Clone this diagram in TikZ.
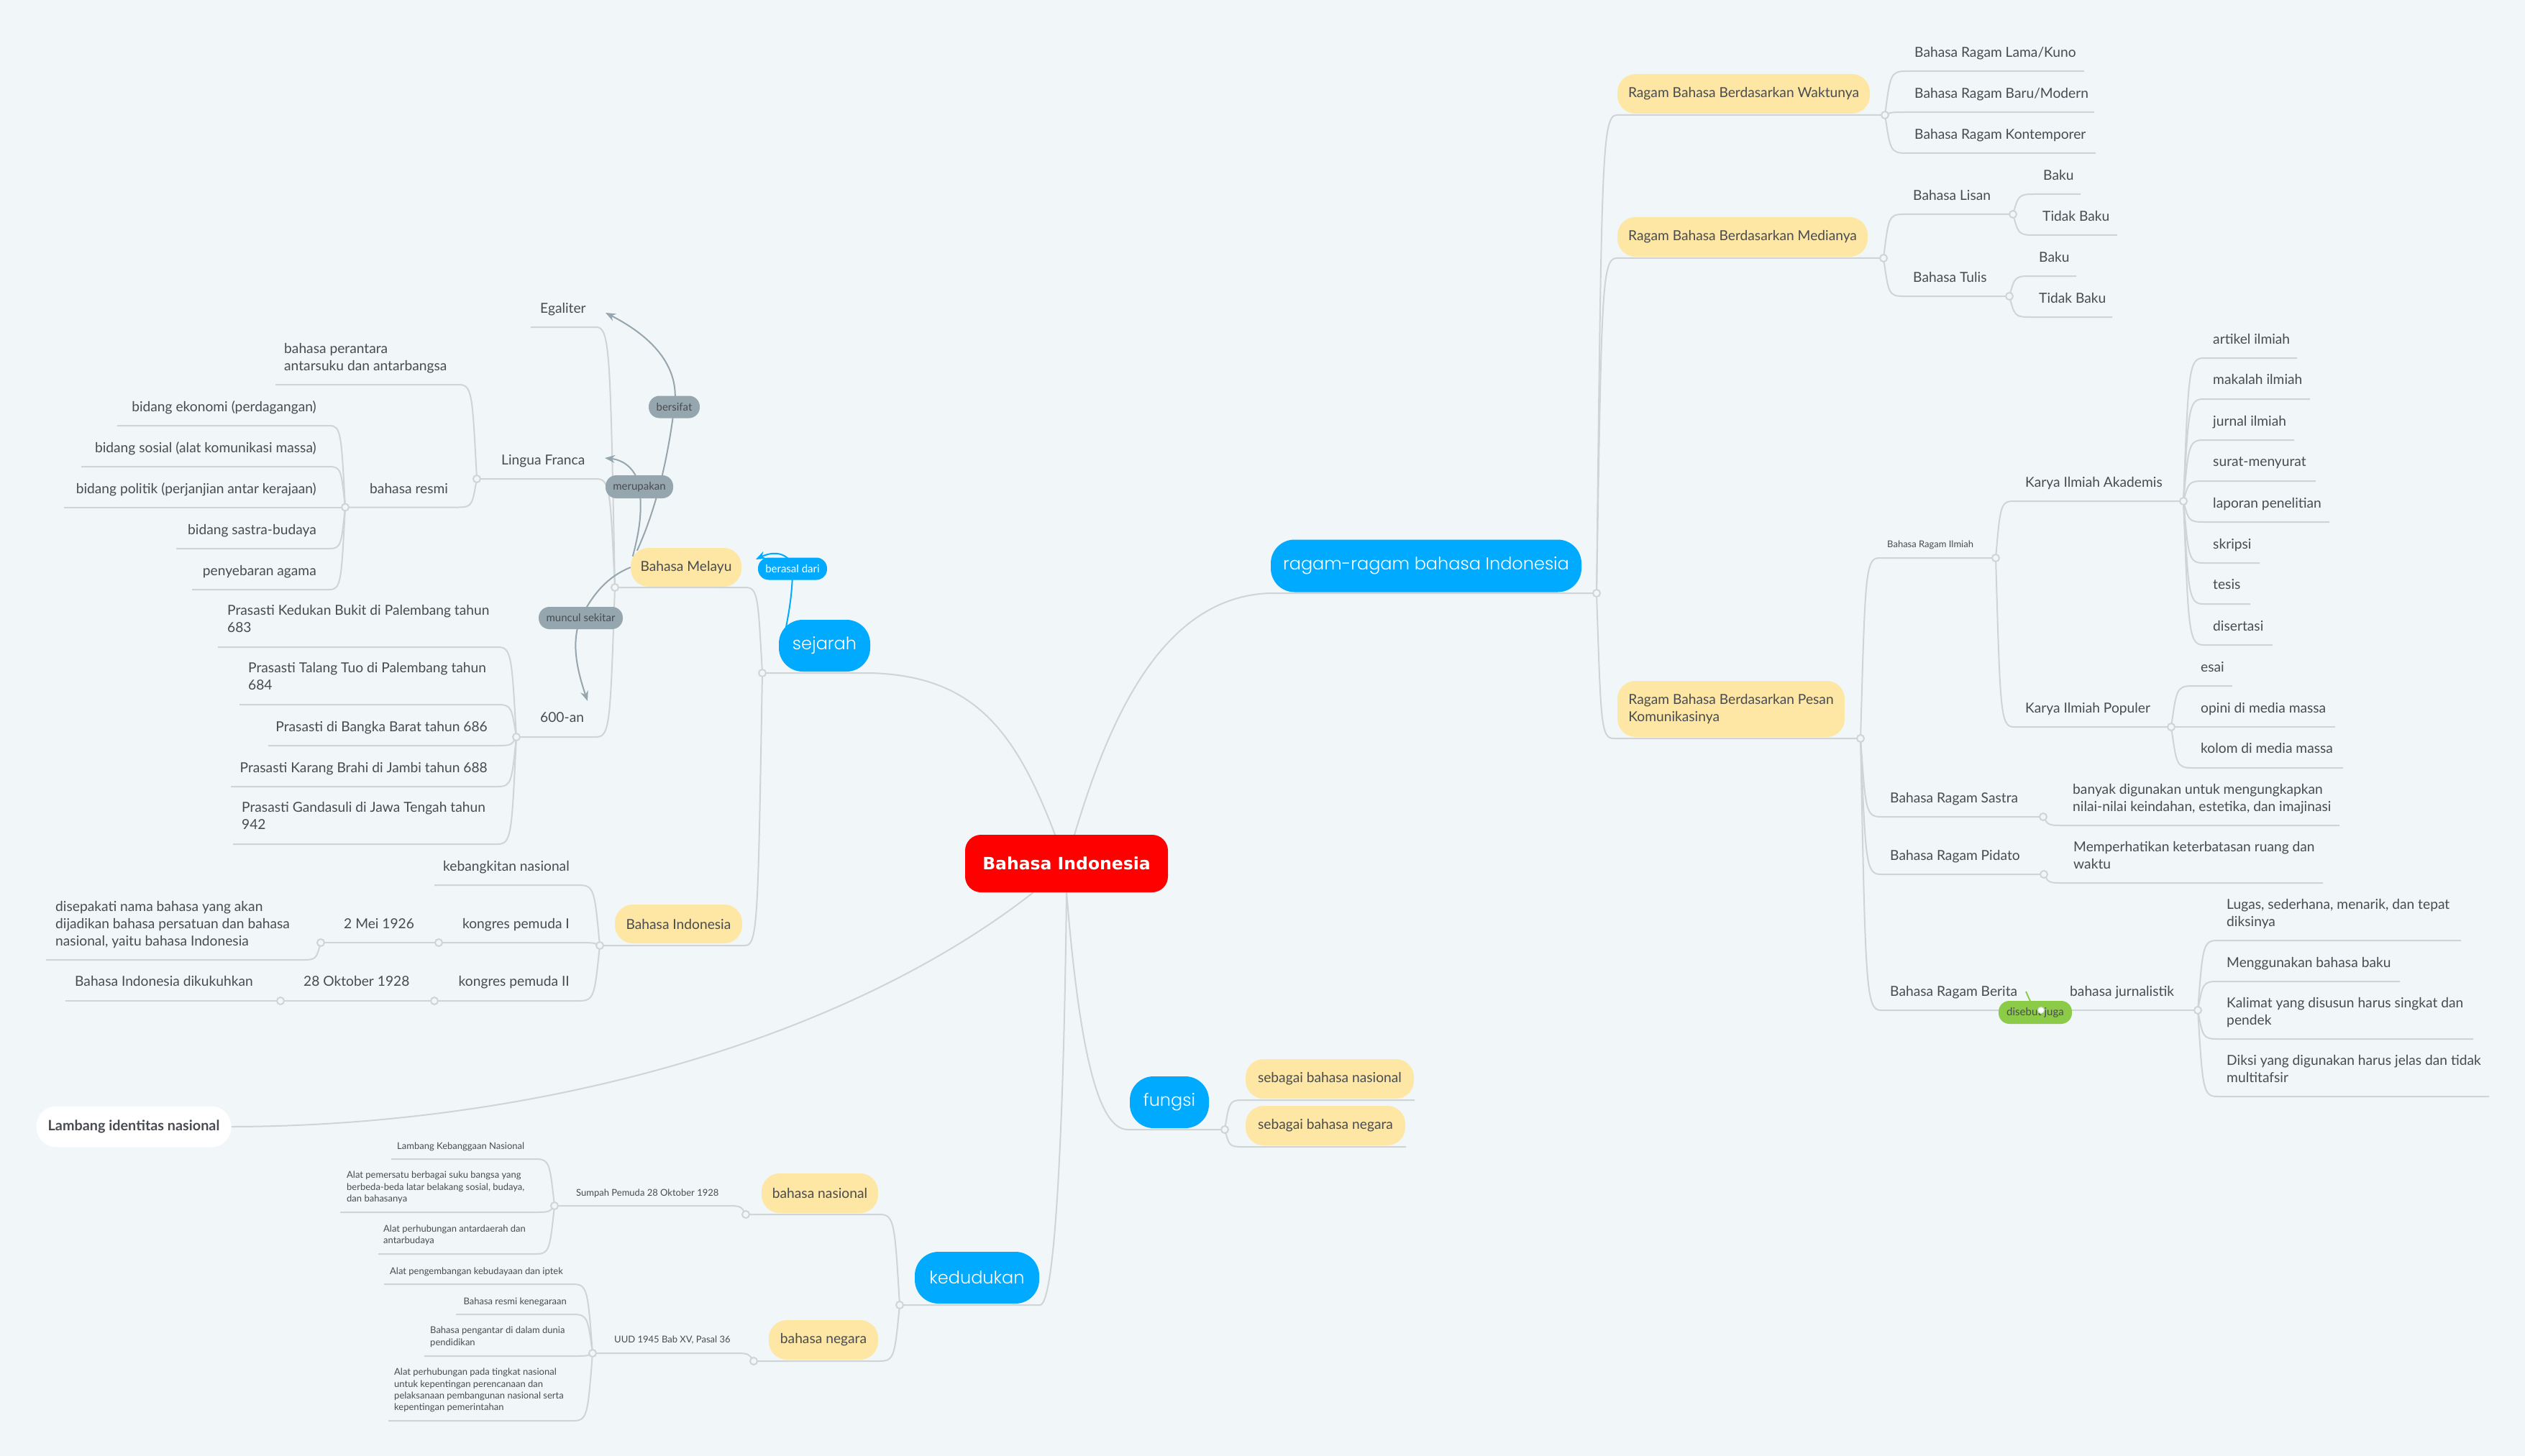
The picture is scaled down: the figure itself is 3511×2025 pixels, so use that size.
\documentclass[tikz,border=0pt]{standalone}
\usepackage{fontspec}
\usetikzlibrary{calc,arrows.meta,shapes.geometric}
\setmainfont{Lato}
\newfontfamily\thinfont{Poppins}[UprightFont=* Light]
\newfontfamily\rootfont{DejaVu Sans}
\definecolor{bgc}{HTML}{F1F6F9}
\definecolor{linec}{HTML}{D0D4D7}
\definecolor{relc}{HTML}{96A6AF}
\definecolor{bluec}{HTML}{00AAFF}
\definecolor{yelc}{HTML}{FEE7A5}
\definecolor{txtc}{HTML}{484C50}
\definecolor{grnc}{HTML}{8BCB48}
\pgfdeclarelayer{back}
\pgfdeclarelayer{bg}
\pgfsetlayers{back,bg,main}
\tikzset{
  txt/.style={inner sep=0,yshift=-2pt,text=txtc,align=left,font=\fontsize{19.2}{24}\selectfont,execute at begin node=\strut,execute at end node=\strut},
  tsm/.style={inner sep=0,yshift=-1pt,text=txtc,align=left,font=\fontsize{13}{16.4}\selectfont,execute at begin node=\strut,execute at end node=\strut},
  jn/.style={circle,minimum size=10pt,inner sep=0,draw=linec,line width=2pt,fill=bgc},
  br/.style={draw=linec,line width=2pt},
  pill/.style={rectangle,inner sep=0,align=left},
  yel/.style={pill,fill=yelc,text=txtc,rounded corners=25pt,font=\fontsize{19.2}{24}\selectfont},
  blu/.style={pill,fill=bluec,text=white,rounded corners=33pt,font=\thinfont\fontsize{24}{30}\selectfont},
  rel/.style={pill,fill=relc,text=txtc,rounded corners=15pt,font=\fontsize{15}{18}\selectfont},
  relline/.style={draw=relc,line width=2pt},
  tipped/.style={-{Stealth[length=14pt,width=11pt]}},
}
% text label
\newcommand{\Tx}[5][west]{\node[txt,anchor=#1] (#2) at (#3,#4) {#5};}
\newcommand{\Ts}[5][west]{\node[tsm,anchor=#1] (#2) at (#3,#4) {#5};}
% junction circle
\newcommand{\Jn}[3]{\node[jn] (#1) at (#2,#3) {};}
% rounded node: style, name, cx, cy, w, h, text
\newcommand{\Pl}[7]{\node[#1,minimum width=#5pt,minimum height=#6pt] (#2) at (#3,#4) {#7};}
% branch drawn from a junction, over a free-ended underline: name, junction, near x, far x, y
\newcommand{\Kid}[5]{%
  \coordinate (#1n) at (#3,#5);\coordinate (#1f) at (#4,#5);
  \begin{pgfonlayer}{bg}
  \draw[br] let \p1=(#2.center),\p2=(#1n) in (#2.center) .. controls ({\x1+.25*(\x2-\x1)},{\y1+.9*(\y2-\y1)}) and ({\x1+.25*(\x2-\x1)},\y2) .. (#1n) -- (#1f);
  \end{pgfonlayer}}
% branch from a junction to another junction: junction, near x, y, far junction
\newcommand{\Lnk}[4]{%
  \coordinate (#4n) at (#2,#3);
  \begin{pgfonlayer}{bg}
  \draw[br] let \p1=(#1.center),\p2=(#4n) in (#1.center) .. controls ({\x1+.25*(\x2-\x1)},{\y1+.9*(\y2-\y1)}) and ({\x1+.25*(\x2-\x1)},\y2) .. (#4n) -- (#4.center);
  \end{pgfonlayer}}
\begin{document}
\begin{tikzpicture}[x=1pt,y=-1pt]
\begin{pgfonlayer}{back}
\fill[bgc] (0,0) rectangle (3511,2025);
\end{pgfonlayer}
\useasboundingbox (0,0) rectangle (3511,2025);

% main nodes
\node[pill,fill=red,text=white,rounded corners=22pt,minimum width=282pt,minimum height=80pt,font=\rootfont\bfseries\fontsize{23.5}{30}\selectfont] (root) at (1483,1201) {Bahasa Indonesia};
\node[pill,fill=white,text=txtc,rounded corners=28pt,minimum width=271pt,minimum height=57pt,font=\bfseries\fontsize{19.8}{24}\selectfont] (lam) at (186,1567) {Lambang identitas nasional};
\Pl{blu}{sej}{1146.5}{898}{127}{72}{sejarah}
\Pl{blu}{rag}{1983}{787}{432}{73}{ragam-ragam bahasa Indonesia}
\Pl{blu}{fun}{1626}{1533}{110}{72}{fungsi}
\Pl{blu}{ked}{1358.5}{1777}{173}{72}{kedudukan}

\Pl{yel}{mel}{954}{789}{154}{54}{Bahasa Melayu}
\Pl{yel}{bin}{943.5}{1285}{177}{54}{Bahasa Indonesia}
\Pl{yel}{nas}{1140}{1659.5}{162}{55}{bahasa nasional}
\Pl{yel}{neg}{1145}{1863.5}{152}{55}{bahasa negara}
\Pl{yel}{sbn}{1849}{1500.5}{234}{55}{sebagai bahasa nasional}
\Pl{yel}{sbg}{1843}{1565.5}{222}{55}{sebagai bahasa negara}
\Pl{yel}{wak}{2424.5}{130.5}{351}{55}{Ragam Bahasa Berdasarkan Waktunya}
\Pl{yel}{med}{2423}{329.5}{348}{55}{Ragam Bahasa Berdasarkan Medianya}
\Pl{yel}{pes}{2407}{986}{316}{78}{Ragam Bahasa Berdasarkan Pesan\\Komunikasinya}

% junctions
\Jn{jsej}{1060}{936}\Jn{jmel}{855}{817}\Jn{jlf}{663}{666}\Jn{jres}{480}{705.5}\Jn{jsix}{718}{1025}
\Jn{jbi}{834}{1315}\Jn{jka}{610}{1311}\Jn{jmei}{446}{1311}\Jn{jkb}{604}{1392}\Jn{jokt}{390}{1392}
\Jn{jked}{1251}{1815}\Jn{jnas}{1037}{1689}\Jn{jsum}{771}{1677}\Jn{jneg}{1048}{1893}\Jn{juud}{824}{1882}
\Jn{jfun}{1703}{1571}
\Jn{jrag}{2220}{825}\Jn{jwak}{2621}{160}\Jn{jmed}{2619}{359}\Jn{jlis}{2799}{298}\Jn{jtul}{2794}{412}
\Jn{jpes}{2587}{1027}\Jn{jilm}{2775}{776}\Jn{jaka}{3036}{697}\Jn{jpop}{3019}{1011}
\Jn{jsas}{2841}{1136}\Jn{jpid}{2842}{1216}\Jn{jjur}{3056}{1405}

% relation nodes
\Pl{rel}{rsif}{937.5}{566}{71}{31}{bersifat}
\Pl{rel}{rmer}{889}{677}{94}{32}{merupakan}
\Pl{rel}{rmun}{807.5}{859.5}{117}{31}{muncul sekitar}
\node[pill,fill=bluec,text=white,rounded corners=15pt,minimum width=96pt,minimum height=31pt,font=\fontsize{15}{18}\selectfont] (rasl) at (1102,791) {berasal dari};
\node[pill,fill=grnc,text=txtc,rounded corners=15pt,minimum width=102pt,minimum height=32pt,font=\fontsize{15}{18}\selectfont] (rdis) at (2830,1408) {disebut juga};
\node[jn,fill=white,minimum size=9pt,line width=1pt] (jber) at (2838,1405) {};

% root branches
\begin{pgfonlayer}{bg}
\coordinate (ra) at (1467,1161);\coordinate (rb) at (1494,1161);\coordinate (rc) at (1437,1241);
\draw[br] (ra) .. controls (1410,1010) and (1350,940) .. (1210,936) -- (jsej.center);
\draw[br] (rb) .. controls (1545,990) and (1620,830) .. (1766,825) -- (jrag.center);
\draw[br] (rc) .. controls (1170,1450) and (740,1566) .. (lam.east);
\draw[br] (root.south) .. controls (1500,1450) and (1525,1571) .. (1568,1571) -- (jfun.center);
\draw[br] (root.south) .. controls (1480,1500) and (1470,1815) .. (1446,1815) -- (jked.center);
\end{pgfonlayer}

% sejarah
\Lnk{jsej}{1036}{817}{jmel}
\Lnk{jsej}{1036}{1315}{jbi}
\Lnk{jmel}{829}{666}{jlf}
\Lnk{jmel}{829}{1025}{jsix}
\Kid{ega}{jmel}{829}{738}{455}
\Tx{tega}{751}{428.5}{Egaliter}
\Tx{tlf}{697}{640}{Lingua Franca}
\Tx{tsix}{751}{998}{600-an}
\Kid{per}{jlf}{638}{383}{535}
\Tx{tper}{395}{498}{bahasa perantara\\antarsuku dan antarbangsa}
\Lnk{jlf}{638}{705.5}{jres}
\Tx{tres}{514}{680}{bahasa resmi}
\Kid{eko}{jres}{458}{163}{592}
\Kid{sos}{jres}{458}{113}{649}
\Kid{pol}{jres}{458}{89}{705.5}
\Kid{sas}{jres}{458}{245}{763}
\Kid{pen}{jres}{458}{267}{820}
\Tx[east]{teko}{440}{566}{bidang ekonomi (perdagangan)}
\Tx[east]{tsos}{440}{623}{bidang sosial (alat komunikasi massa)}
\Tx[east]{tpol}{440}{680}{bidang politik (perjanjian antar kerajaan)}
\Tx[east]{tsas}{440}{737}{bidang sastra-budaya}
\Tx[east]{tpen}{440}{794}{penyebaran agama}
\Kid{pa}{jsix}{692}{303}{900}
\Kid{pb}{jsix}{692}{333}{980}
\Kid{pc}{jsix}{692}{373}{1037}
\Kid{pd}{jsix}{692}{321}{1094}
\Kid{pe}{jsix}{692}{324}{1174}
\Tx{tpa}{316}{862}{Prasasti Kedukan Bukit di Palembang tahun\\683}
\Tx{tpb}{345}{942.5}{Prasasti Talang Tuo di Palembang tahun\\684}
\Tx[east]{tpc}{678}{1010.5}{Prasasti di Bangka Barat tahun 686}
\Tx[east]{tpd}{678}{1068}{Prasasti Karang Brahi di Jambi tahun 688}
\Tx{tpe}{336}{1136.5}{Prasasti Gandasuli di Jawa Tengah tahun\\942}
\Kid{keb}{jbi}{805}{604}{1231}
\Tx[east]{tkeb}{792}{1205}{kebangkitan nasional}
\Lnk{jbi}{805}{1311}{jka}
\Tx[east]{tka}{792}{1284.5}{kongres pemuda I}
\Lnk{jka}{600}{1311}{jmei}
\Tx{tmei}{478}{1284.5}{2 Mei 1926}
\Kid{dis}{jmei}{422}{64}{1335}
\Tx{tdis}{77}{1286}{disepakati nama bahasa yang akan\\dijadikan bahasa persatuan dan bahasa\\nasional, yaitu bahasa Indonesia}
\Lnk{jbi}{805}{1392}{jkb}
\Tx[east]{tkb}{792}{1365}{kongres pemuda II}
\Lnk{jkb}{595}{1392}{jokt}
\Tx{tokt}{422}{1365}{28 Oktober 1928}
\Kid{kuk}{jokt}{380}{91}{1392}
\Tx{tkuk}{104}{1365}{Bahasa Indonesia dikukuhkan}

% kedudukan
\Lnk{jked}{1223}{1689}{jnas}
\Lnk{jked}{1223}{1893}{jneg}
\Lnk{jnas}{1012}{1677}{jsum}
\Lnk{jneg}{1022}{1882}{juud}
\Ts{tsum}{801}{1659}{Sumpah Pemuda 28 Oktober 1928}
\Ts{tuud}{854}{1863}{UUD 1945 Bab XV, Pasal 36}
\Kid{lk}{jsum}{745}{544}{1612}
\Kid{lp}{jsum}{745}{473}{1686}
\Kid{lh}{jsum}{745}{526}{1744}
\Ts{tlk}{552}{1594}{Lambang Kebanggaan Nasional}
\Ts{tlp}{482}{1652}{Alat pemersatu berbagai suku bangsa yang\\berbeda-beda latar belakang sosial, budaya,\\dan bahasanya}
\Ts{tlh}{533}{1718}{Alat perhubungan antardaerah dan\\antarbudaya}
\Kid{ua}{juud}{797}{534}{1786}
\Kid{ub}{juud}{797}{634}{1828}
\Kid{uc}{juud}{797}{590}{1886}
\Kid{ud}{juud}{797}{540}{1976}
\Ts{tua}{542}{1768}{Alat pengembangan kebudayaan dan iptek}
\Ts[east]{tub}{788}{1810}{Bahasa resmi kenegaraan}
\Ts{tuc}{598}{1859.5}{Bahasa pengantar di dalam dunia\\pendidikan}
\Ts{tud}{548}{1934}{Alat perhubungan pada tingkat nasional\\untuk kepentingan perencanaan dan\\pelaksanaan pembangunan nasional serta\\kepentingan pemerintahan}

% fungsi
\Kid{fa}{jfun}{1727}{1967}{1530}
\Kid{fb}{jfun}{1727}{1955}{1595}

% ragam
\Lnk{jrag}{2248}{160}{jwak}
\Lnk{jrag}{2248}{359}{jmed}
\Lnk{jrag}{2244}{1027}{jpes}
\Kid{wa}{jwak}{2650}{2898}{99}
\Kid{wb}{jwak}{2650}{2912}{156}
\Kid{wc}{jwak}{2650}{2914}{213}
\Tx{twa}{2662}{73}{Bahasa Ragam Lama/Kuno}
\Tx{twb}{2662}{130}{Bahasa Ragam Baru/Modern}
\Tx{twc}{2662}{187}{Bahasa Ragam Kontemporer}
\Lnk{jmed}{2646}{298}{jlis}
\Lnk{jmed}{2646}{412}{jtul}
\Tx{tlis}{2660}{272}{Bahasa Lisan}
\Tx{ttul}{2660}{386}{Bahasa Tulis}
\Kid{la}{jlis}{2828}{2893}{270}
\Kid{lb}{jlis}{2828}{2944}{327}
\Kid{ta}{jtul}{2822}{2887}{384}
\Kid{tb}{jtul}{2822}{2937}{441}
\Tx{tla}{2841}{244}{Baku}
\Tx{tlb}{2840}{301}{Tidak Baku}
\Tx{tta}{2835}{358}{Baku}
\Tx{ttb}{2835}{415}{Tidak Baku}

\Lnk{jpes}{2613}{776}{jilm}
\Lnk{jpes}{2615}{1136}{jsas}
\Lnk{jpes}{2615}{1216}{jpid}
\Lnk{jpes}{2615}{1405}{jber}
\Ts{tilm}{2624}{757}{Bahasa Ragam Ilmiah}
\Tx{tsst}{2628}{1110}{Bahasa Ragam Sastra}
\Tx{tpdt}{2628}{1190}{Bahasa Ragam Pidato}
\Tx{tbrt}{2628}{1379}{Bahasa Ragam Berita}
\Lnk{jilm}{2800}{697}{jaka}
\Lnk{jilm}{2800}{1011}{jpop}
\Tx{taka}{2816}{671}{Karya Ilmiah Akademis}
\Tx{tpop}{2816}{985}{Karya Ilmiah Populer}
\Kid{a}{jaka}{3064}{3194}{498}
\Kid{b}{jaka}{3064}{3212}{555}
\Kid{c}{jaka}{3064}{3190}{612}
\Kid{d}{jaka}{3064}{3220}{669}
\Kid{e}{jaka}{3064}{3239}{726}
\Kid{g}{jaka}{3064}{3142}{783}
\Kid{h}{jaka}{3064}{3129}{840}
\Kid{i}{jaka}{3064}{3160}{897}
\Tx{ta1}{3077}{472}{artikel ilmiah}
\Tx{ta2}{3077}{528}{makalah ilmiah}
\Tx{ta3}{3077}{586}{jurnal ilmiah}
\Tx{ta4}{3077}{642}{surat-menyurat}
\Tx{ta5}{3077}{700}{laporan penelitian}
\Tx{ta6}{3077}{757}{skripsi}
\Tx{ta7}{3077}{813}{tesis}
\Tx{ta8}{3077}{871}{disertasi}
\Kid{pq}{jpop}{3048}{3104}{954}
\Kid{pr}{jpop}{3048}{3247}{1011}
\Kid{ps}{jpop}{3048}{3258}{1068}
\Tx{tp1}{3060}{928}{esai}
\Tx{tp2}{3060}{985}{opini di media massa}
\Tx{tp3}{3060}{1041}{kolom di media massa}
\Kid{sa}{jsas}{2867}{3253}{1148}
\Tx{tsa}{2882}{1111}{banyak digunakan untuk mengungkapkan\\nilai-nilai keindahan, estetika, dan imajinasi}
\Kid{pi}{jpid}{2867}{3230}{1228}
\Tx{tpi}{2883}{1191}{Memperhatikan keterbatasan ruang dan\\waktu}
\Lnk{jber}{2850}{1405}{jjur}
\Tx{tjur}{2878}{1379}{bahasa jurnalistik}
\Kid{ja}{jjur}{3083}{3422}{1308}
\Kid{jb}{jjur}{3083}{3337}{1365}
\Kid{jc}{jjur}{3083}{3439}{1445}
\Kid{jd}{jjur}{3083}{3461}{1525}
\Tx{tja}{3096}{1271}{Lugas, sederhana, menarik, dan tepat\\diksinya}
\Tx{tjb}{3096}{1339}{Menggunakan bahasa baku}
\Tx{tjc}{3096}{1408}{Kalimat yang disusun harus singkat dan\\pendek}
\Tx{tjd}{3096}{1488}{Diksi yang digunakan harus jelas dan tidak\\multitafsir}

% relation connectors
\coordinate (aega) at (842,435);\coordinate (alf) at (841,637);\coordinate (asix) at (817,975);\coordinate (aasl) at (1051,778);\coordinate (agrn) at (2817,1379);
\begin{pgfonlayer}{bg}
\draw[relline] (mel.north west) ++(9,4) .. controls (900,735) and (925,670) .. (rsif.center);
\draw[relline,tipped] (rsif.center) .. controls (945,520) and (920,475) .. (aega);
\draw[relline] (mel.north west) ++(3,12) .. controls (890,735) and (893,710) .. (rmer.center);
\draw[relline,tipped] (rmer.center) .. controls (885,655) and (870,640) .. (alf);
\draw[relline] (mel.west) .. controls (845,802) and (825,825) .. (rmun.center);
\draw[relline,tipped] (rmun.center) .. controls (795,890) and (800,925) .. (asix);
\draw[draw=bluec,line width=2pt] (sej.north west) ++(10,12) .. controls (1095,860) and (1102,830) .. (rasl.center);
\draw[draw=bluec,line width=2pt,tipped] (rasl.center) .. controls (1100,772) and (1080,764) .. (aasl);
\draw[draw=grnc,line width=2pt] (rdis.center) -- (agrn);
\end{pgfonlayer}
\end{tikzpicture}
\end{document}
